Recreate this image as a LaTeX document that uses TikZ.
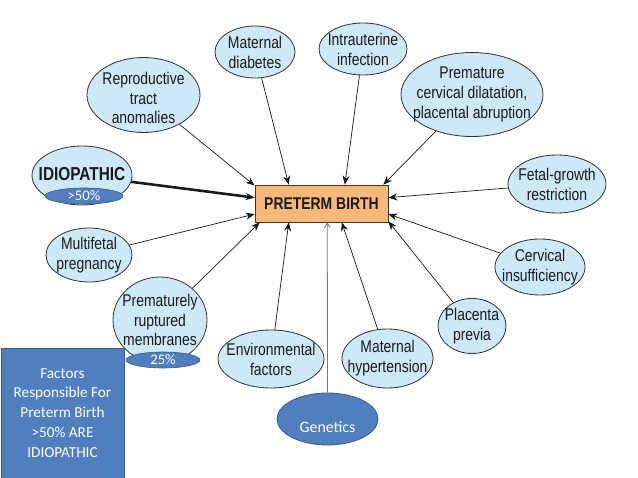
\documentclass[tikz,border=0pt]{standalone}
\usepackage{fontspec}
\setmainfont{Liberation Sans}[FakeStretch=0.82]
\newfontfamily\calfont{Carlito}
\usepackage{tikz}
\usetikzlibrary{shapes.geometric, arrows.meta}
\usepackage{xcolor}
\definecolor{bubfill}{HTML}{CDE9F8}
\definecolor{bubline}{HTML}{333333}
\definecolor{pbfill}{HTML}{F8B878}
\definecolor{genfill}{HTML}{4F7FBE}
\definecolor{genline}{HTML}{385D8A}
\definecolor{txtcol}{HTML}{1A1A1A}
\newlength\pxu
\setlength\pxu{0.03cm}

\begin{document}
\begin{tikzpicture}[x=0.03cm, y=-0.03cm,
    bub/.style={ellipse, draw=bubline, fill=bubfill, line width=0.7pt, inner sep=0pt},
    bubtxt/.style={align=center, text=txtcol, font=\fontsize{14.5}{17}\selectfont},
    pct/.style={ellipse, draw=genline, fill=genfill, line width=0.5pt, inner sep=0pt,
        text=white, font=\calfont\fontsize{12.5}{14}\selectfont},
    pbox/.style={rectangle, draw=black!80, fill=pbfill, line width=0.7pt,
        minimum width=133\pxu, minimum height=37\pxu, text=txtcol,
        font=\bfseries\fontsize{14.5}{17}\selectfont},
    infobox/.style={rectangle, draw=genline, fill=genfill, line width=0.8pt,
        minimum width=123\pxu, minimum height=130\pxu, align=center, text=white,
        font=\calfont\fontsize{13}{17}\selectfont},
    feed/.style={->, line width=0.6pt, black!90},
    genarrow/.style={-{Straight Barb[length=4pt, width=5pt]}, line width=0.7pt, genfill},
    >={Stealth[length=7.5pt, width=6pt]}]

    % 0. Fix the page to the reference size
    \useasboundingbox (0,0) rectangle (638,478);

    % 1. The central box
    \node[pbox] (PB) at (321.5,203.5) {PRETERM BIRTH};

    % 2. Factor bubbles, clockwise from the top left
    \node[bub, minimum width=113\pxu, minimum height=75\pxu,
        label={[bubtxt, yshift=-3\pxu]center:Reproductive\\tract\\anomalies}] (RT) at (143.5,95) {};
    \node[bub, minimum width=80\pxu, minimum height=52\pxu,
        label={[bubtxt]center:Maternal\\diabetes}] (MD) at (255,52) {};
    \node[bub, minimum width=88\pxu, minimum height=52\pxu,
        label={[bubtxt]center:Intrauterine\\infection}] (IU) at (363,49) {};
    \node[bub, minimum width=142\pxu, minimum height=84\pxu,
        label={[bubtxt]center:{Premature\\cervical dilatation,\\placental abruption}}] (PC) at (472,94.5) {};
    \node[bub, minimum width=98\pxu, minimum height=58\pxu,
        label={[bubtxt]center:Fetal-growth\\restriction}] (FG) at (557,184) {};
    \node[bub, minimum width=90\pxu, minimum height=56\pxu,
        label={[bubtxt]center:Cervical\\insufficiency}] (CI) at (540,267) {};
    \node[bub, minimum width=68\pxu, minimum height=55\pxu,
        label={[bubtxt]center:Placenta\\previa}] (PP) at (472,326) {};
    \node[bub, minimum width=91\pxu, minimum height=59\pxu,
        label={[bubtxt]center:Maternal\\hypertension}] (MH) at (387.5,358.5) {};
    \node[bub, minimum width=106\pxu, minimum height=58\pxu,
        label={[bubtxt]center:Environmental\\factors}] (EF) at (271,359) {};
    \node[bub, minimum width=94\pxu, minimum height=86\pxu,
        label={[bubtxt]center:Prematurely\\ruptured\\membranes}] (PR) at (160,320) {};
    \node[bub, minimum width=86\pxu, minimum height=54\pxu,
        label={[bubtxt]center:Multifetal\\pregnancy}] (MF) at (89,255) {};
    \node[bub, minimum width=100\pxu, minimum height=59\pxu,
        label={[bubtxt, font=\bfseries\fontsize{16}{18}\selectfont, yshift=1\pxu]center:IDIOPATHIC}] (ID) at (82,175.5) {};

    % 3. Percentage tags
    \node[pct, minimum width=78\pxu, minimum height=16\pxu] (IDP) at (84,196) {>50\%};
    \node[pct, minimum width=74\pxu, minimum height=16\pxu] (PRP) at (163,360) {25\%};

    % 4. Genetics
    \node[ellipse, draw=genline, fill=genfill, line width=0.7pt, minimum width=101\pxu,
        minimum height=52\pxu, label={[text=white, font=\calfont\fontsize{13.5}{16}\selectfont,
        yshift=-8\pxu]center:Genetics}] (GE) at (327.5,419) {};

    % 5. Arrows into the box
    \draw[feed] (MD) -- (PB.150);
    \draw[feed] (IU) -- (PB.39);
    \draw[feed] (PC) -- (PB.17);
    \draw[feed] (RT) -- (PB.165);
    \draw[feed, line width=2.2pt] (ID) -- (PB.175);
    \draw[feed] (FG) -- (PB.5);
    \draw[feed] (MF) -- (PB.189);
    \draw[feed] (CI) -- (PB.351);
    \draw[feed] (PR) -- (PB.197);
    \draw[feed] (EF) -- (PB.210);
    \draw[feed] (MH) -- (PB.317);
    \draw[feed] (PP) -- (PB.345);
    \draw[genarrow] (GE) -- (PB.287);

    % 6. Summary box
    \node[infobox] (FR) at (62.5,413) {Factors\\Responsible For\\Preterm Birth\\>50\% ARE\\IDIOPATHIC};

\end{tikzpicture}
\end{document}
